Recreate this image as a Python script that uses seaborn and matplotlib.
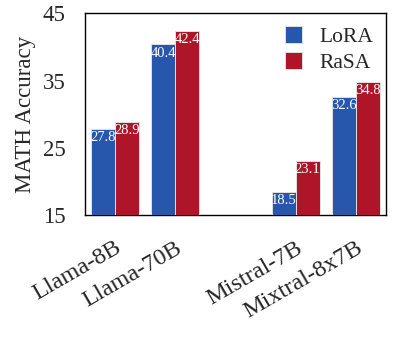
import pandas as pd
import seaborn as sns
from matplotlib import pyplot as plt

models = ["Llama-8B", "Llama-70B", "Mistral-7B", "Mixtral-8x7B"]
order = ["Llama-8B", "Llama-70B", " ", "Mistral-7B", "Mixtral-8x7B"]
lora = [27.8, 40.4, 18.5, 32.6]
rasa = [28.9, 42.4, 23.1, 34.8]
methods = ["LoRA", "RaSA"]
colors = ["#2756ad", "#ae1529"]

df = pd.DataFrame({
    "Model": models * 2,
    "Method": ["LoRA"] * 4 + ["RaSA"] * 4,
    "Accuracy": lora + rasa,
})

sns.set_style("white")
plt.rcParams['font.family'] = ['Liberation Serif', 'DejaVu Serif']

fig = plt.figure(figsize=(4.02, 3.51), dpi=100)
ax = fig.add_axes([0.211, 0.387, 0.749, 0.575])
sns.barplot(data=df, x="Model", y="Accuracy", hue="Method", order=order,
            hue_order=methods, palette=colors, saturation=1, width=0.8, ax=ax,
            edgecolor="#e0e0e0", linewidth=0.7, zorder=3)

for c in ax.containers:
    ax.bar_label(c, fmt="%.1f", padding=-11, color="white", fontsize=10.5)

ax.set_ylim(15, 45)
ax.set_yticks([15, 25, 35, 45])
ax.set_xlim(-0.5, 4.5)
ax.set_xlabel("")
ax.set_ylabel("MATH Accuracy", fontsize=16.5, labelpad=5)
ax.tick_params(axis="y", length=0, pad=14, labelsize=16.5)
ax.tick_params(axis="x", length=0, pad=16, labelsize=17.5)
plt.setp(ax.get_xticklabels(), rotation=30, ha="right", rotation_mode="anchor")
for s in ax.spines.values():
    s.set_color("black")
    s.set_linewidth(1)

ax.legend(loc="upper right", frameon=False, fontsize=15.5, handlelength=0.8,
          handleheight=0.8, borderaxespad=0.2, labelspacing=0.25, handletextpad=0.8)

plt.savefig("out.png", dpi=100)
